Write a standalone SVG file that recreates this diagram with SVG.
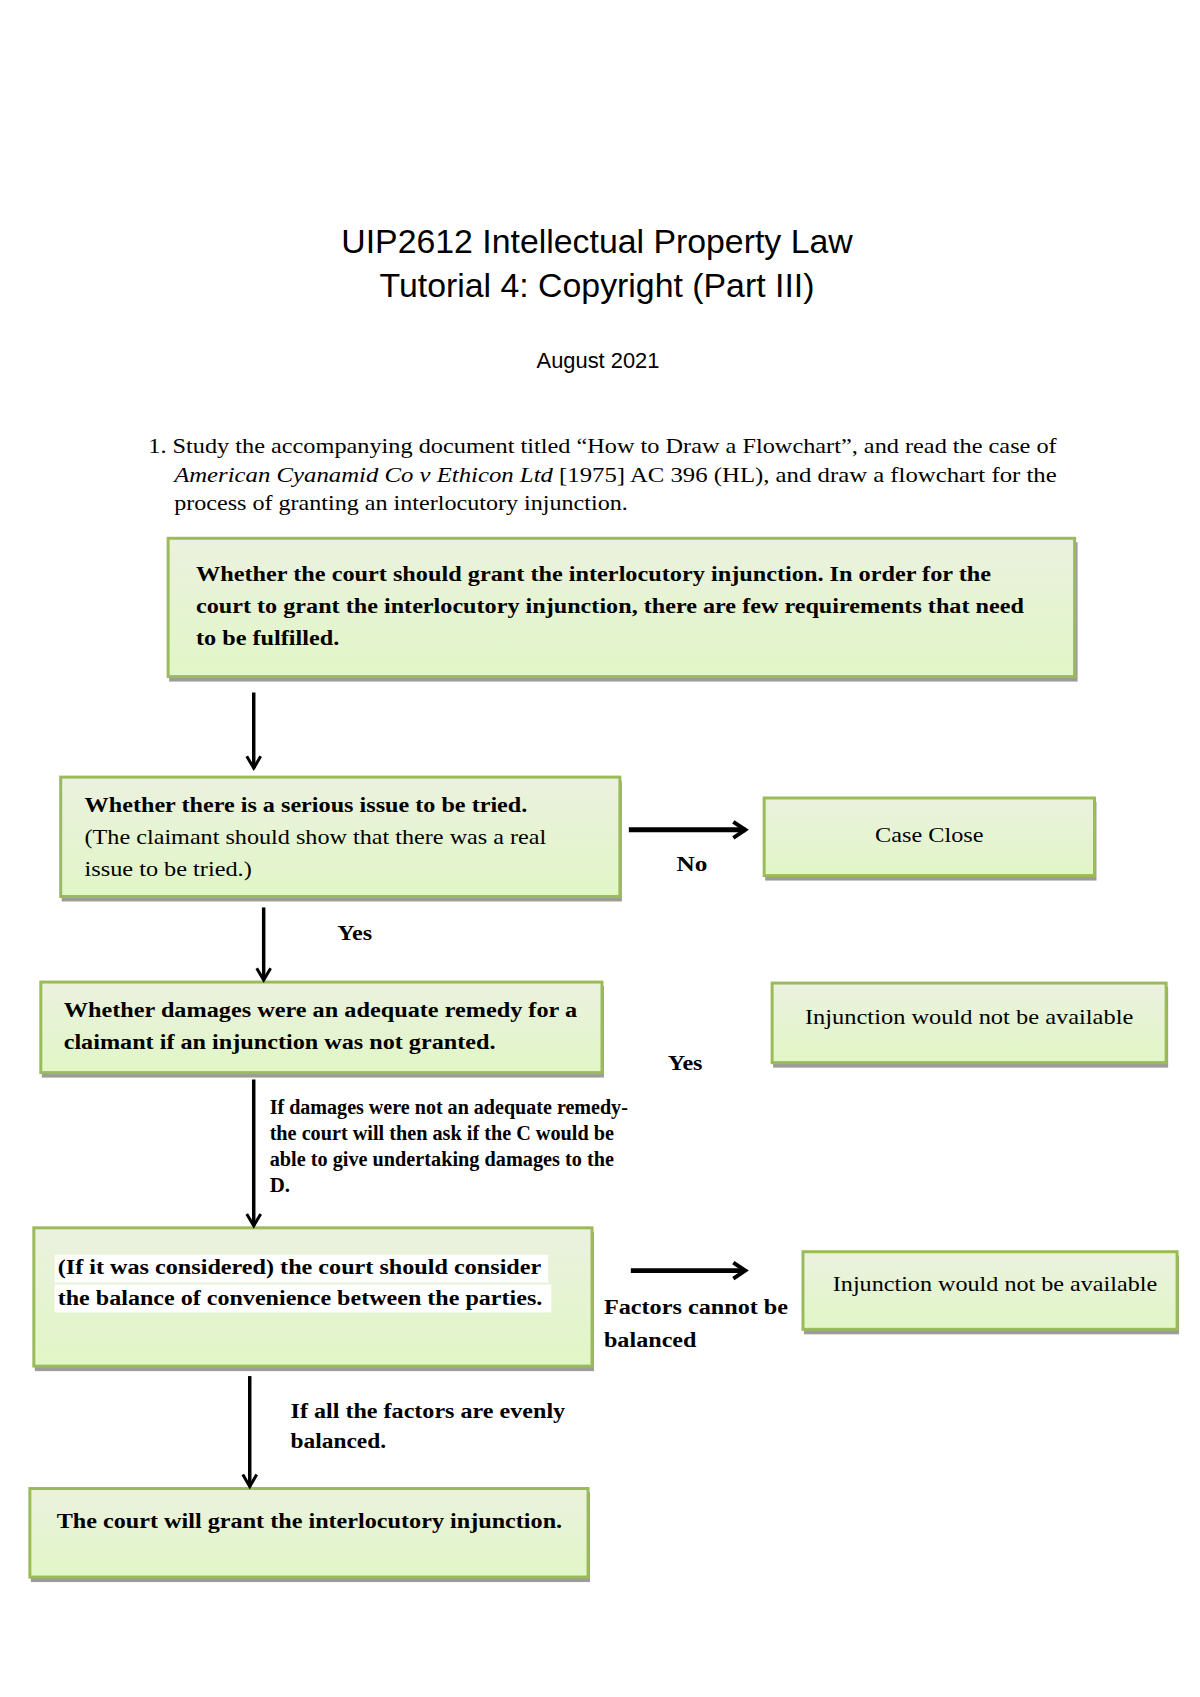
<svg xmlns="http://www.w3.org/2000/svg" width="1200" height="1697" viewBox="0 0 1200 1697">
<defs>
<linearGradient id="g" x1="0" y1="0" x2="0" y2="1">
<stop offset="0" stop-color="#ebf1df"/>
<stop offset="1" stop-color="#e1f6c6"/>
</linearGradient>
<marker id="av" markerUnits="userSpaceOnUse" markerWidth="20" markerHeight="20" refX="14" refY="8" orient="auto">
<path d="M2,1 L14,8 L2,15" fill="none" stroke="#000" stroke-width="3"/>
</marker>
<marker id="ah" markerUnits="userSpaceOnUse" markerWidth="24" markerHeight="24" refX="16" refY="10" orient="auto">
<path d="M4,2 L16,10 L4,18" fill="none" stroke="#000" stroke-width="4"/>
</marker>
</defs>
<style>
.sh{fill:#9c9c9c}
.bx{fill:url(#g);stroke:#9bbb59;stroke-width:3}
.t{font-family:"Liberation Serif",serif;font-size:21px;fill:#000}
.b{font-weight:bold}
.s{font-family:"Liberation Sans",Arial,sans-serif;fill:#000}
.c{stroke:#000;fill:none}
</style>
<rect width="1200" height="1697" fill="#fff"/>
<g transform="scale(0.995)">
<g id="header">
<text class="s" x="600" y="254" font-size="34" text-anchor="middle">UIP2612 Intellectual Property Law</text>
<text class="s" x="600" y="298" font-size="34" text-anchor="middle">Tutorial 4: Copyright (Part III)</text>
<text class="s" x="601" y="370" font-size="22" text-anchor="middle">August 2021</text>
<text class="t" x="149" y="455" font-size="22" textLength="913" lengthAdjust="spacingAndGlyphs">1. Study the accompanying document titled “How to Draw a Flowchart”, and read the case of</text>
<text class="t" x="175" y="484" font-size="22" textLength="887" lengthAdjust="spacingAndGlyphs"><tspan font-style="italic">American Cyanamid Co v Ethicon Ltd</tspan> [1975] AC 396 (HL), and draw a flowchart for the</text>
<text class="t" x="175" y="513" font-size="22" textLength="456" lengthAdjust="spacingAndGlyphs">process of granting an interlocutory injunction.</text>
</g>
<g id="n1">
<rect class="sh" x="170" y="545" width="913" height="140"/>
<rect class="bx" x="169" y="541" width="911" height="139"/>
<text class="t b" x="197" y="584" textLength="799" lengthAdjust="spacingAndGlyphs">Whether the court should grant the interlocutory injunction. In order for the</text>
<text class="t b" x="197" y="616" textLength="832" lengthAdjust="spacingAndGlyphs">court to grant the interlocutory injunction, there are few requirements that need</text>
<text class="t b" x="197" y="648" textLength="144" lengthAdjust="spacingAndGlyphs">to be fulfilled.</text>
</g>
<g id="n2">
<rect class="sh" x="62" y="785" width="563" height="121"/>
<rect class="bx" x="61" y="781" width="562" height="120"/>
<text class="t b" x="85" y="816" textLength="445" lengthAdjust="spacingAndGlyphs">Whether there is a serious issue to be tried.</text>
<text class="t" x="85" y="848" textLength="464" lengthAdjust="spacingAndGlyphs">(The claimant should show that there was a real</text>
<text class="t" x="85" y="880" textLength="168" lengthAdjust="spacingAndGlyphs">issue to be tried.)</text>
</g>
<g id="n3">
<rect class="sh" x="769" y="806" width="333" height="79"/>
<rect class="bx" x="768" y="802" width="332" height="78"/>
<text class="t" x="934" y="846" text-anchor="middle" textLength="109" lengthAdjust="spacingAndGlyphs">Case Close</text>
</g>
<g id="n4">
<rect class="sh" x="42" y="991" width="565" height="92"/>
<rect class="bx" x="41" y="987" width="564" height="91"/>
<text class="t b" x="64" y="1022" textLength="516" lengthAdjust="spacingAndGlyphs">Whether damages were an adequate remedy for a</text>
<text class="t b" x="64" y="1054" textLength="434" lengthAdjust="spacingAndGlyphs">claimant if an injunction was not granted.</text>
</g>
<g id="n5">
<rect class="sh" x="777" y="992" width="397" height="81"/>
<rect class="bx" x="776" y="988" width="396" height="80"/>
<text class="t" x="974" y="1029" text-anchor="middle" textLength="330" lengthAdjust="spacingAndGlyphs">Injunction would not be available</text>
</g>
<g id="n6">
<rect class="sh" x="35" y="1238" width="562" height="140"/>
<rect class="bx" x="34" y="1234" width="561" height="139"/>
<rect x="55" y="1261" width="496" height="28" fill="#fff"/>
<rect x="55" y="1291" width="499" height="28" fill="#fff"/>
<text class="t b" x="58" y="1280" textLength="486" lengthAdjust="spacingAndGlyphs">(If it was considered) the court should consider</text>
<text class="t b" x="58" y="1312" textLength="487" lengthAdjust="spacingAndGlyphs">the balance of convenience between the parties.</text>
</g>
<g id="n7">
<rect class="sh" x="808" y="1262" width="377" height="79"/>
<rect class="bx" x="807" y="1258" width="376" height="78"/>
<text class="t" x="1000" y="1297" text-anchor="middle" textLength="326" lengthAdjust="spacingAndGlyphs">Injunction would not be available</text>
</g>
<g id="n8">
<rect class="sh" x="31" y="1500" width="562" height="90"/>
<rect class="bx" x="30" y="1496" width="561" height="89"/>
<text class="t b" x="57" y="1536" textLength="508" lengthAdjust="spacingAndGlyphs">The court will grant the interlocutory injunction.</text>
</g>
<g id="connectors">
<line class="c" x1="255" y1="696" x2="255" y2="772" stroke-width="3.5" marker-end="url(#av)"/>
<line class="c" x1="632" y1="834" x2="749" y2="834" stroke-width="5" marker-end="url(#ah)"/>
<line class="c" x1="265" y1="912" x2="265" y2="985" stroke-width="3.5" marker-end="url(#av)"/>
<line class="c" x1="255" y1="1085" x2="255" y2="1232" stroke-width="3.5" marker-end="url(#av)"/>
<line class="c" x1="634" y1="1277" x2="749" y2="1277" stroke-width="5" marker-end="url(#ah)"/>
<line class="c" x1="251" y1="1383" x2="251" y2="1494" stroke-width="3.5" marker-end="url(#av)"/>
</g>
<g id="labels">
<text class="t b" x="680" y="875" textLength="31" lengthAdjust="spacingAndGlyphs">No</text>
<text class="t b" x="339" y="945" textLength="35" lengthAdjust="spacingAndGlyphs">Yes</text>
<text class="t b" x="671" y="1075" textLength="35" lengthAdjust="spacingAndGlyphs">Yes</text>
<text class="t b" x="271" y="1120" font-size="18" textLength="360" lengthAdjust="spacingAndGlyphs">If damages were not an adequate remedy-</text>
<text class="t b" x="271" y="1146" font-size="18" textLength="346" lengthAdjust="spacingAndGlyphs">the court will then ask if the C would be</text>
<text class="t b" x="271" y="1172" font-size="18" textLength="346" lengthAdjust="spacingAndGlyphs">able to give undertaking damages to the</text>
<text class="t b" x="271" y="1198" font-size="18">D.</text>
<text class="t b" x="607" y="1321" textLength="185" lengthAdjust="spacingAndGlyphs">Factors cannot be</text>
<text class="t b" x="607" y="1354" textLength="93" lengthAdjust="spacingAndGlyphs">balanced</text>
<text class="t b" x="292" y="1425" textLength="276" lengthAdjust="spacingAndGlyphs">If all the factors are evenly</text>
<text class="t b" x="292" y="1455" textLength="96" lengthAdjust="spacingAndGlyphs">balanced.</text>
</g>
</g>
</svg>
